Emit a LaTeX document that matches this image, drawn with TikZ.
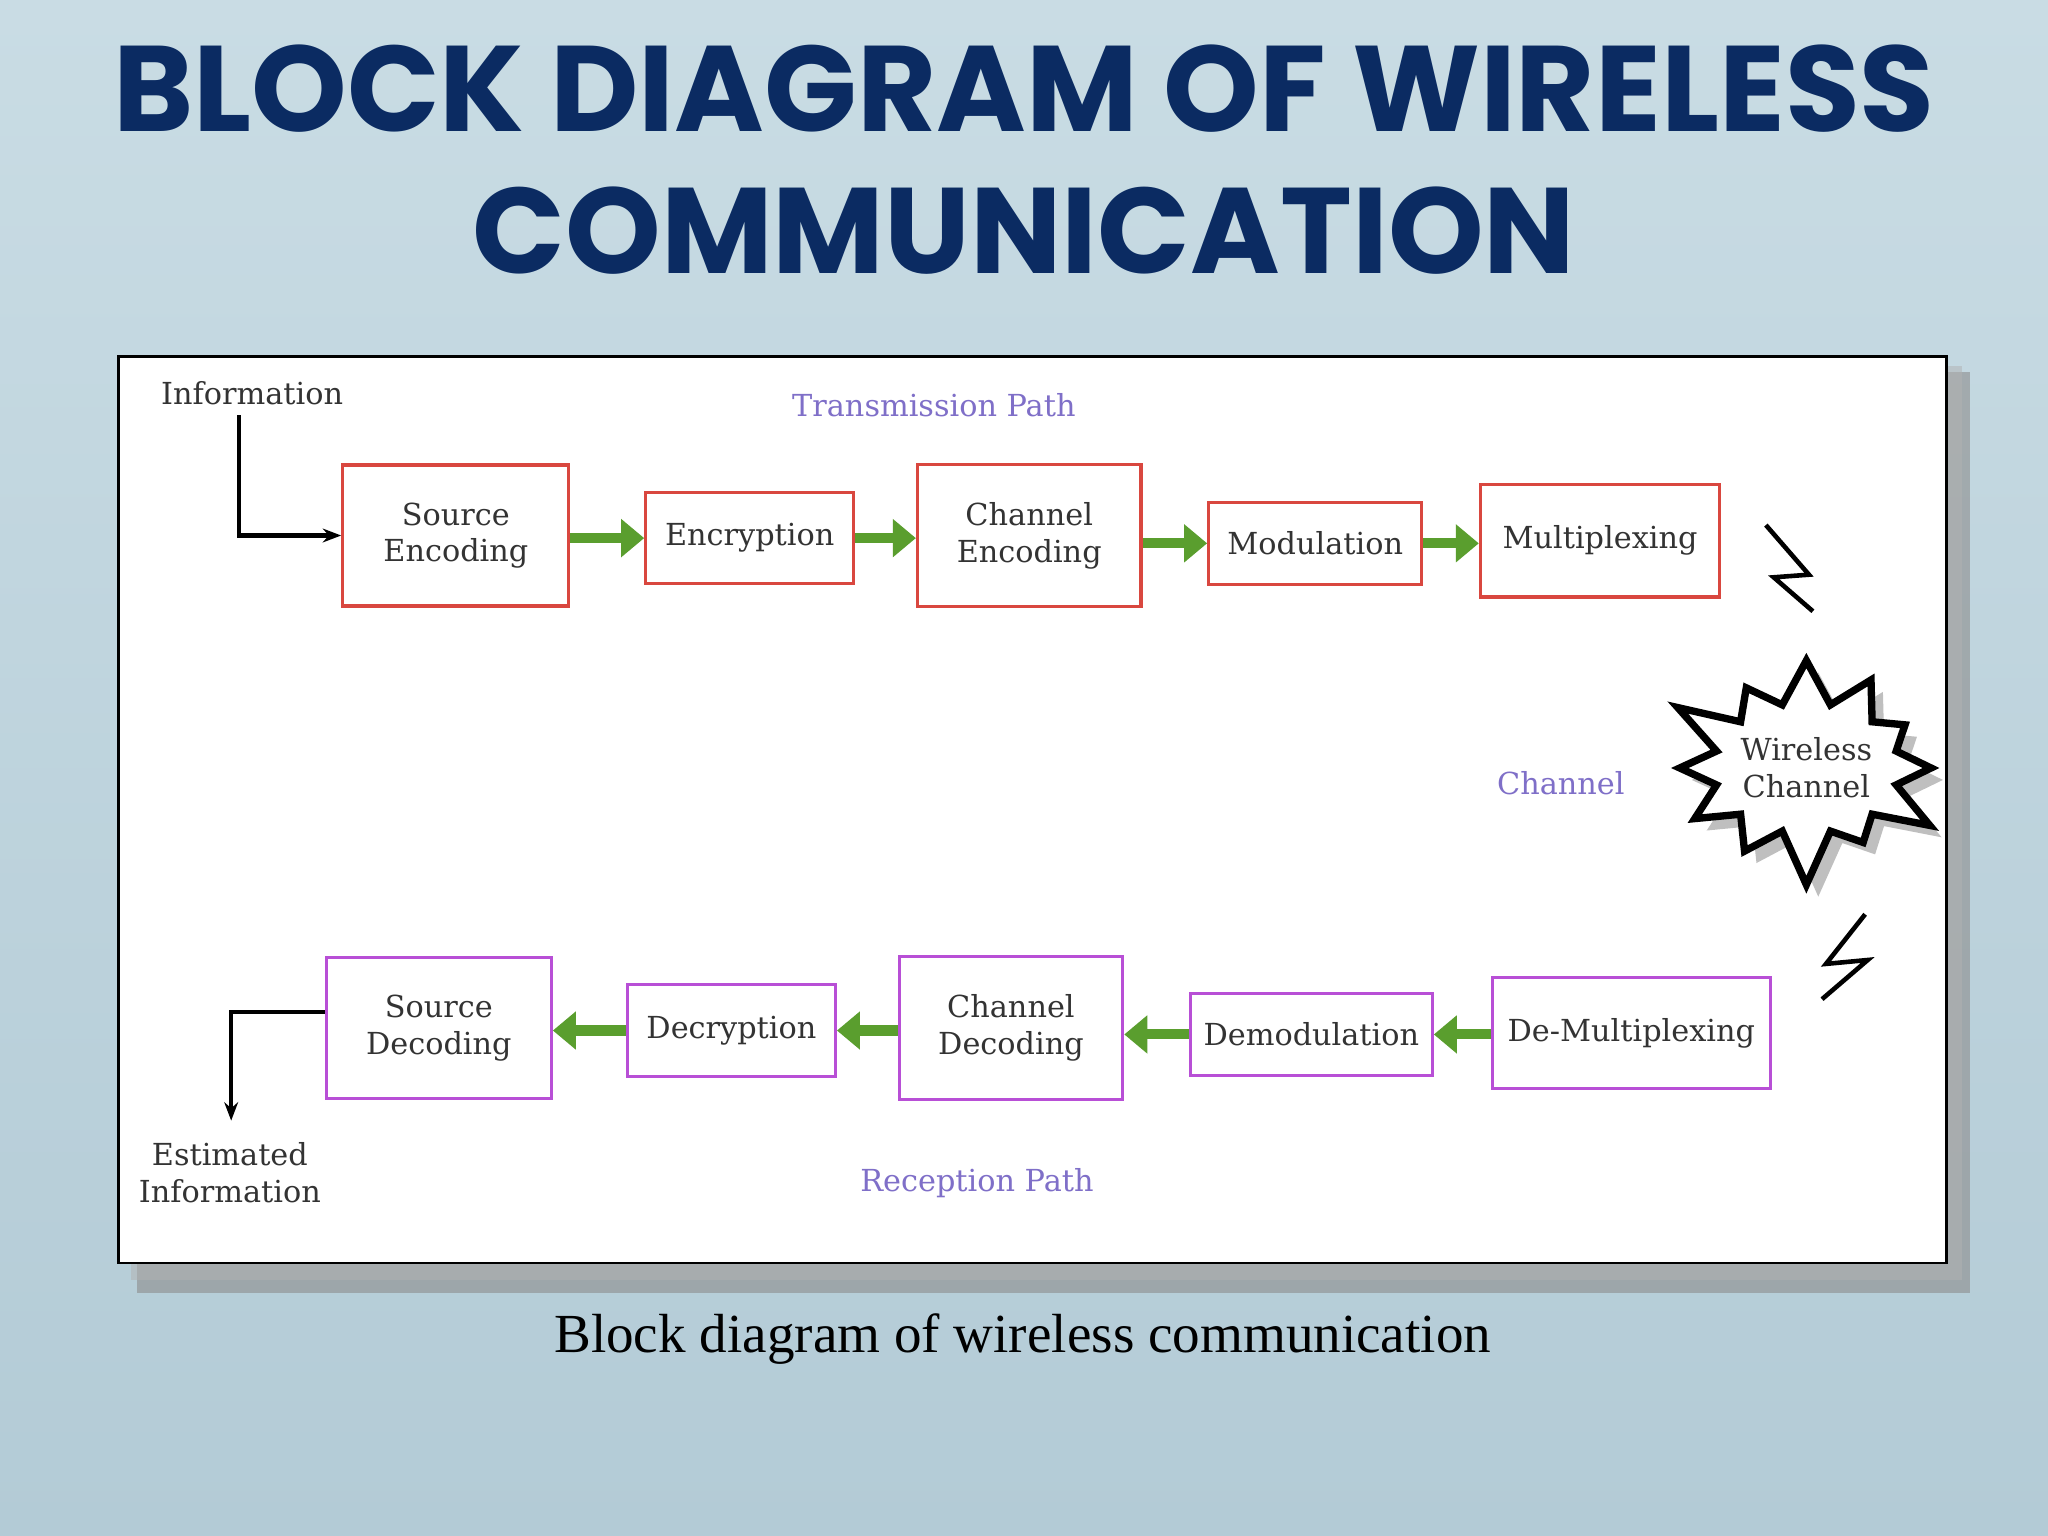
\documentclass[tikz,border=0pt]{standalone}
\usepackage{fontspec}
\setmainfont{DejaVu Serif}
\newfontfamily\titlefont{Poppins}
\newfontfamily\capfont{Liberation Serif}
\usetikzlibrary{arrows.meta,shapes.misc,shapes.symbols,shadows}
\definecolor{bgA}{HTML}{C9DCE4}
\definecolor{bgB}{HTML}{B3CBD6}
\definecolor{navy}{HTML}{0B2B62}
\definecolor{tx}{HTML}{D9473F}
\definecolor{rx}{HTML}{B84FD6}
\definecolor{lab}{HTML}{7F6FC8}
\definecolor{grn}{HTML}{5A9E2E}
\tikzset{
 blk/.style={draw=#1, line width=0.7pt, fill=white, align=center, inner sep=0pt, font=\fontsize{6.6}{8}\selectfont, text=black!80},
 garr/.style={draw=grn, line width=2.2pt, -{Triangle[length=5pt,width=8pt]}},
 karr/.style={draw=black, line width=0.9pt, -{Stealth[length=4pt]}},
 lbl/.style={font=\fontsize{6.6}{8}\selectfont, text=lab},
 txt/.style={font=\fontsize{6.6}{8}\selectfont, text=black!80, align=center},
}
\begin{document}
\begin{tikzpicture}[x=0.01cm,y=-0.01cm]
\useasboundingbox (0,0) rectangle (1568,1176);
\shade[top color=bgA, bottom color=bgB] (0,0) rectangle (1568,1176);
% title
\node[font=\titlefont\bfseries\fontsize{26.5}{31}\selectfont, text=navy, align=center] (title) at (784,122) {BLOCK DIAGRAM OF WIRELESS\\COMMUNICATION};
% panel
\fill[black!45, opacity=0.6] (105,285) rectangle (1508,990);
\fill[black!30, opacity=0.5] (100,280) rectangle (1502,980);
\draw[fill=white, line width=0.6pt] (91,273) rectangle (1490,967);
% labels
\node[lbl] (tp) at (715,310) {Transmission Path};
\node[lbl] (rp) at (748,906) {Reception Path};
\node[lbl] (ch) at (1195,600) {Channel};
\node[txt] (info) at (193,301) {Information};
\node[txt] (est) at (176,898) {Estimated\\Information};
% tx blocks
\node[blk=tx, minimum width=1.73cm, minimum height=1.08cm] (se) at (349,410) {Source\\Encoding};
\node[blk=tx, minimum width=1.59cm, minimum height=0.70cm] (en) at (574,412) {Encryption};
\node[blk=tx, minimum width=1.71cm, minimum height=1.09cm] (ce) at (788,410) {Channel\\Encoding};
\node[blk=tx, minimum width=1.63cm, minimum height=0.63cm] (mo) at (1007,416) {Modulation};
\node[blk=tx, minimum width=1.83cm, minimum height=0.86cm] (mu) at (1225,414) {Multiplexing};
% rx blocks
\node[blk=rx, minimum width=1.72cm, minimum height=1.08cm] (sd) at (336,787) {Source\\Decoding};
\node[blk=rx, minimum width=1.59cm, minimum height=0.70cm] (de) at (560,789) {Decryption};
\node[blk=rx, minimum width=1.71cm, minimum height=1.09cm] (cd) at (774,787) {Channel\\Decoding};
\node[blk=rx, minimum width=1.85cm, minimum height=0.63cm] (dm) at (1004,792) {Demodulation};
\node[blk=rx, minimum width=2.13cm, minimum height=0.85cm] (dx) at (1249,791) {De-Multiplexing};
% green arrows
\draw[garr] (se.east|-en.west) -- (en.west);
\draw[garr] (en.east) -- (ce.west|-en.east);
\draw[garr] (ce.east|-mo.west) -- (mo.west);
\draw[garr] (mo.east) -- (mu.west|-mo.east);
\draw[garr] (dx.west|-dm.east) -- (dm.east);
\draw[garr] (dm.west) -- (cd.east|-dm.west);
\draw[garr] (cd.west|-de.east) -- (de.east);
\draw[garr] (de.west) -- (sd.east|-de.west);
% info arrows
\coordinate (i0) at (183,318);
\coordinate (o1) at (177,858);
\draw[karr] (i0) |- (se.west);
\draw[karr] (sd.west|-0,775) -| (o1);
% starburst
\node[starburst, starburst points=12, starburst point height=0.45cm, minimum width=2.1cm, minimum height=1.9cm, draw=black, line width=1.6pt, fill=white, inner sep=0pt, align=center, font=\fontsize{6.6}{8}\selectfont, text=black!80, drop shadow] (wc) at (1383,588) {Wireless\\Channel};
% lightning
\draw[line width=1pt] (1352,402) -- (1385,440) -- (1358,442) -- (1388,468);
\draw[line width=1pt] (1428,700) -- (1398,738) -- (1430,735) -- (1395,765);
% caption
\node[font=\capfont\fontsize{12}{14}\selectfont] (cap) at (783,1025) {Block diagram of wireless communication};
\end{tikzpicture}
\end{document}
